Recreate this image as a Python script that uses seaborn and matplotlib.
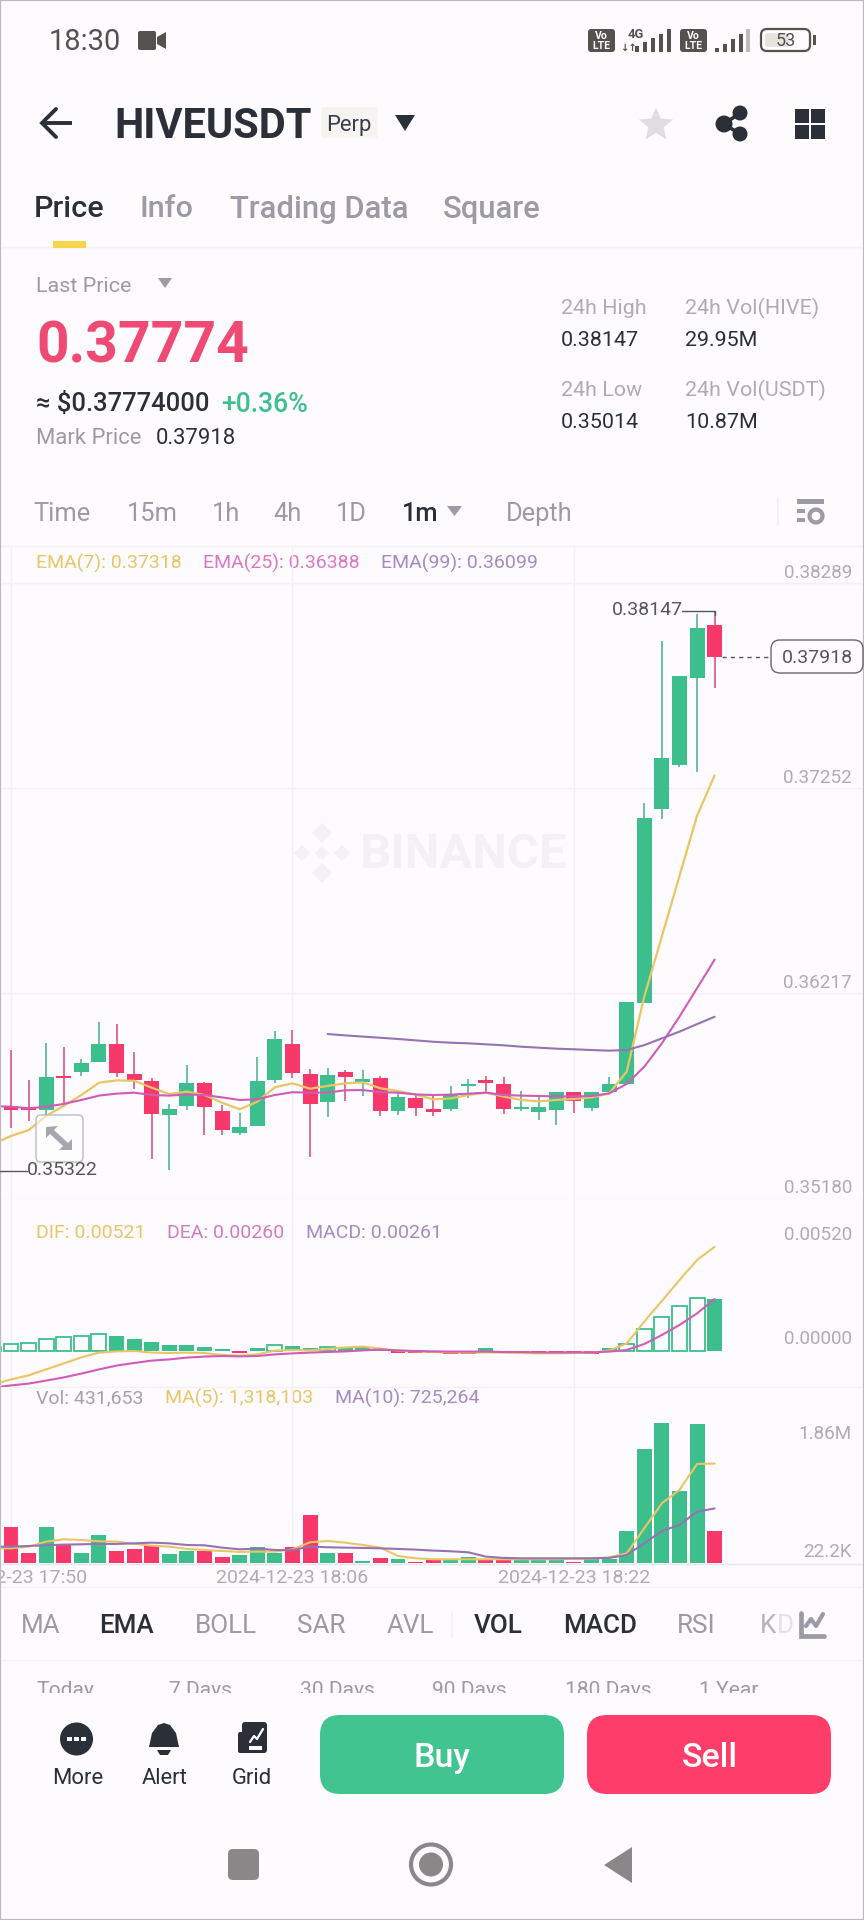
import numpy as np
import pandas as pd
import matplotlib
matplotlib.use('Agg')
import matplotlib.pyplot as plt
import seaborn as sns
from matplotlib.patches import Rectangle, Circle, Polygon, FancyBboxPatch
from matplotlib.transforms import ScaledTranslation

# candle data (index -1 is the cut off candle on the left edge)
candle_idx = list(range(-1, 41))
opens = [.35342, .35650, .35645, .35628, .35800, .35822, .35872, .35962, .35812, .35776, .35601,
         .35648, .35766, .35625, .35514, .35548, .35780, .35960, .35810, .35670, .35820, .35771,
         .35790, .35625, .35687, .35632, .35635, .35751, .35780, .35760, .35632, .35620, .35627,
         .35718, .35640, .35719, .35761, .36167, .37148, .37370, .37808, .38075]
highs = [.35660, .35931, .35780, .35965, .35945, .35886, .36074, .36061, .35923, .35788, .35657,
         .35856, .35768, .35654, .35612, .35898, .36029, .36032, .35834, .35839, .35830, .35830,
         .35802, .35721, .35704, .35704, .35751, .35787, .35800, .35797, .35724, .35696, .35718,
         .35718, .35718, .35797, .36175, .37177, .37996, .37818, .38132, .38147]
lows = [.35322, .35536, .35573, .35603, .35662, .35800, .35872, .35797, .35734, .35381, .35325,
        .35628, .35502, .35502, .35502, .35548, .35763, .35792, .35389, .35595, .35674, .35701,
        .35600, .35603, .35600, .35600, .35623, .35687, .35718, .35608, .35623, .35578, .35553,
        .35612, .35623, .35718, .35761, .36167, .37096, .37358, .37336, .37757]
closes = [.35612, .35628, .35628, .35797, .35788, .35864, .35962, .35817, .35781, .35608, .35635,
          .35766, .35643, .35529, .35544, .35776, .35985, .35817, .35660, .35805, .35793, .35785,
          .35625, .35694, .35637, .35620, .35709, .35761, .35765, .35633, .35642, .35643, .35718,
          .35672, .35718, .35758, .36175, .37104, .37404, .37818, .38062, .37918]

ema7 = [.35457, .35497, .35527, .35598, .35650, .35704, .35766, .35778, .35776, .35741, .35709,
        .35721, .35704, .35665, .35632, .35670, .35743, .35763, .35736, .35750, .35763, .35768,
        .35738, .35724, .35707, .35682, .35687, .35704, .35716, .35696, .35679, .35672, .35679,
        .35684, .35692, .35712, .35822, .36201, .36505, .36810, .37114, .37318]
ema25 = [.35648, .35645, .35637, .35645, .35659, .35679, .35701, .35711, .35716, .35704, .35701,
         .35707, .35704, .35692, .35679, .35682, .35704, .35718, .35716, .35716, .35728, .35729,
         .35718, .35716, .35707, .35704, .35706, .35711, .35716, .35704, .35701, .35699, .35697,
         .35697, .35699, .35712, .35760, .35847, .35965, .36100, .36243, .36388]
ema99_idx = list(range(18, 41))
ema99 = [.36012, .36005, .35999, .35993, .35987, .35980, .35973, .35968, .35965, .35960, .35955,
         .35948, .35943, .35938, .35935, .35931, .35928, .35931, .35956, .35990, .36024, .36062,
         .36099]

macd_hist = [.00022, .00033, .00042, .00060, .00068, .00077, .00085, .00075, .00062, .00043, .00030,
             .00028, .00018, .00008, -.00012, .00015, .00032, .00027, .00015, .00022, .00018, .00020,
             .00012, -.00012, -.00012, -.00012, -.00017, -.00017, .00015, -.00012, -.00008, -.00008,
             -.00015, -.00010, -.00015, .00015, .00035, .00110, .00172, .00227, .00265, .00261]
macd_hollow = [-1, 0, 1, 2, 3, 4, 5, 15, 18, 35, 36, 37, 38, 39]
dif = [-.00167, -.00142, -.00122, -.00092, -.00062, -.00032, -.00008, -.00002, 0, -.00008, -.00010,
       -.00008, -.00010, -.00020, -.00023, -.00017, .00002, .00005, .00003, .00010, .00018, .00022,
       .00012, .00002, -.00002, -.00005, -.00007, -.00008, -.00007, -.00008, -.00010, -.00012,
       -.00012, -.00010, -.00008, .00002, .00038, .00147, .00250, .00355, .00455, .00521]
dea = [-.00183, -.00172, -.00163, -.00148, -.00132, -.00113, -.00092, -.00073, -.00060, -.00048,
       -.00042, -.00033, -.00028, -.00025, -.00027, -.00025, -.00017, -.00012, -.00008, -.00005,
       -.00002, .00003, .00007, .00003, 0, -.00002, -.00003, -.00003, -.00003, -.00005, -.00005,
       -.00007, -.00007, -.00007, -.00007, -.00003, .00005, .00035, .00080, .00130, .00188, .00260]

volume = [200, 485, 132, 485, 242, 132, 375, 168, 190, 242, 123, 163, 168, 79, 110, 220, 141, 220, 639,
          132, 132, 31, 75, 62, 22, 48, 53, 88, 57, 57, 53, 53, 53, 22.2, 57, 57, 432, 1508, 1860,
          957, 1843, 431.653]
vol_ma5 = [198, 198, 220, 287, 317, 309, 291, 287, 256, 234, 220, 190, 176, 163, 150, 154, 154, 185,
           278, 295, 273, 242, 207, 97, 66, 53, 53, 53, 53, 53, 53, 53, 53, 60, 60, 79, 132, 463, 793,
           970, 1314, 1318.103]
vol_ma10 = [220, 220, 229, 238, 247, 251, 256, 256, 264, 273, 264, 242, 238, 207, 185, 194, 176, 176,
            220, 212, 207, 203, 198, 190, 181, 168, 159, 145, 88, 71, 66, 66, 66, 66, 66, 71, 110, 264,
            428, 507, 683, 725.264]

price_ticks = [0.38289, 0.37252, 0.36217, 0.35180]
macd_ticks = [0.00520, 0.0]
vol_ticks = [1860, 22.2]
vol_tick_labels = ['1.86M', '22.2K']
time_ticks = [0, 16, 32]
time_labels = ['2024-12-23 17:50', '2024-12-23 18:06', '2024-12-23 18:22']

GREEN = '#3DBF8D'
RED = '#F7386B'
WICK_G = '#55B592'
WICK_R = '#D8587C'
YEL = '#E8C565'
PINK = '#CE5CB8'
PUR = '#9673B2'
BG = '#FEFBFE'
GRIDC = '#F2F0F3'
GREY = '#9B9AA5'
LBL = '#ADABB4'
DARK = '#2B2F38'

sns.set_theme(style='white')
plt.rcParams['font.family'] = ['Roboto', 'DejaVu Sans']

fig = plt.figure(figsize=(8.64, 19.2), dpi=100, facecolor=BG)

df = pd.DataFrame({'i': candle_idx, 'open': opens, 'high': highs, 'low': lows, 'close': closes})
df['dir'] = np.where(df['close'] >= df['open'], 'up', 'down')
dir_pal = {'up': GREEN, 'down': RED}


def panel(top, bottom):
    ax = fig.add_axes([0, 1 - bottom / 1920, 1, (bottom - top) / 1920], zorder=2)
    ax.patch.set_alpha(0)
    return ax


def finish_panel(ax, xlim, ylim, yticks, ylabels, offset_px=1.5, grid_axis='x'):
    ax.set_xlim(*xlim)
    ax.set_ylim(*ylim)
    ax.set_xlabel('')
    ax.set_ylabel('')
    ax.set_xticks(time_ticks)
    ax.set_yticks(yticks)
    ax.set_yticklabels(ylabels)
    sns.despine(ax=ax, left=True, bottom=True, right=True, top=True)
    ax.grid(True, axis=grid_axis, color=GRIDC, linewidth=1.0)
    ax.set_axisbelow(True)
    ax.tick_params(axis='y', length=0, pad=-8.6, labelleft=False, labelright=True,
                   labelcolor=LBL, labelsize=13.6)
    ax.tick_params(axis='x', length=0)
    up = ScaledTranslation(0, offset_px / 100, fig.dpi_scale_trans)
    for lab in ax.get_yticklabels():
        lab.set_ha('right')
        lab.set_va('bottom')
        lab.set_transform(lab.get_transform() + up)


# pixel x = 11 + 17.59 * index
xlim = (-0.625, 48.49)

# price panel
ax_p = panel(546, 1199)
ax_p.vlines(df['i'][df['dir'] == 'up'], df['low'][df['dir'] == 'up'], df['high'][df['dir'] == 'up'],
            color=WICK_G, linewidth=1.2, zorder=2)
ax_p.vlines(df['i'][df['dir'] == 'down'], df['low'][df['dir'] == 'down'], df['high'][df['dir'] == 'down'],
            color=WICK_R, linewidth=1.2, zorder=2)
body_low = df[['open', 'close']].min(axis=1)
body_h = (df['close'] - df['open']).abs()
ax_p.bar(df['i'], body_h, bottom=body_low, width=0.85,
         color=[dir_pal[d] for d in df['dir']], linewidth=0, zorder=3)
sns.lineplot(x=candle_idx, y=ema7, color=YEL, linewidth=1.6, ax=ax_p, errorbar=None, zorder=4)
sns.lineplot(x=candle_idx, y=ema25, color=PINK, linewidth=1.5, ax=ax_p, errorbar=None, zorder=5)
sns.lineplot(x=ema99_idx, y=ema99, color=PUR, linewidth=1.5, ax=ax_p, errorbar=None, zorder=5)
finish_panel(ax_p, xlim, (0.35179, 0.38476), price_ticks, ['%.5f' % v for v in price_ticks], grid_axis='both')
ax_p.tick_params(axis='x', labelbottom=False)

# macd panel
ax_m = panel(1199, 1387)
mdf = pd.DataFrame({'i': candle_idx, 'hist': macd_hist})
mdf['hollow'] = mdf['i'].isin(macd_hollow)
mdf['dir'] = np.where(mdf['hist'] >= 0, 'up', 'down')
solid = mdf[~mdf['hollow']]
sns.barplot(data=solid, x='i', y='hist', hue='dir', palette=dir_pal, dodge=False, native_scale=True,
            width=0.85, errorbar=None, legend=False, linewidth=0, saturation=1, ax=ax_m, zorder=3)
sns.barplot(data=mdf[mdf['hollow']], x='i', y='hist', color=GREEN, fill=False, native_scale=True,
            width=0.85, errorbar=None, linewidth=1.3, saturation=1, ax=ax_m, zorder=3)
sns.lineplot(x=candle_idx, y=dif, color=YEL, linewidth=1.5, ax=ax_m, errorbar=None, zorder=4)
sns.lineplot(x=candle_idx, y=dea, color=PINK, linewidth=1.5, ax=ax_m, errorbar=None, zorder=5)
finish_panel(ax_m, xlim, (-0.0018, 0.0076), macd_ticks, ['%.5f' % v for v in macd_ticks], offset_px=2.5)
ax_m.tick_params(axis='x', labelbottom=False)

# volume panel
ax_v = panel(1387, 1563.3)
vdf = pd.DataFrame({'i': candle_idx, 'vol': volume, 'dir': df['dir']})
sns.barplot(data=vdf, x='i', y='vol', hue='dir', palette=dir_pal, dodge=False, native_scale=True,
            width=0.85, errorbar=None, legend=False, linewidth=0, saturation=1, ax=ax_v, zorder=3)
sns.lineplot(x=candle_idx, y=vol_ma5, color=YEL, linewidth=1.5, ax=ax_v, errorbar=None, zorder=4)
sns.lineplot(x=candle_idx, y=vol_ma10, color=PUR, linewidth=1.5, ax=ax_v, errorbar=None, zorder=5)
finish_panel(ax_v, xlim, (0, 2331), vol_ticks, vol_tick_labels, offset_px=1)
top_lab = ax_v.get_yticklabels()[0]
top_lab.set_va('top')
top_lab.set_transform(top_lab.get_transform() + ScaledTranslation(0, -0.035, fig.dpi_scale_trans))
ax_v.set_xticklabels(time_labels)
ax_v.tick_params(axis='x', labelcolor=LBL, labelsize=14, pad=4)

# everything else is app chrome, drawn in pixel coordinates
ui = fig.add_axes([0, 0, 1, 1], zorder=1)
ui.set_xlim(0, 864)
ui.set_ylim(1920, 0)
ui.axis('off')
top = fig.add_axes([0, 0, 1, 1], zorder=3)
top.set_xlim(0, 864)
top.set_ylim(1920, 0)
top.axis('off')
top.patch.set_alpha(0)


def txt(x, y, s, size, color=GREY, weight='normal', ha='left', ax=ui, **kw):
    # va center sits a little high with Roboto
    return ax.text(x, y + 2, s, fontsize=size * 0.72, color=color, fontweight=weight, ha=ha, va='center', **kw)


def rbox(x0, y0, x1, y1, r, fc, ec='none', lw=0, ax=ui, z=2):
    p = FancyBboxPatch((x0 + r, y0 + r), x1 - x0 - 2 * r, y1 - y0 - 2 * r,
                       boxstyle='round,pad=%g,rounding_size=%g' % (r, r),
                       fc=fc, ec=ec, lw=lw, zorder=z)
    ax.add_patch(p)


def hline(y, x0=0, x1=864, c=GRIDC, lw=1.0):
    ui.plot([x0, x1], [y, y], color=c, lw=lw, solid_capstyle='butt')


def poly(pts, c, ax=ui, z=3):
    ax.add_patch(Polygon(pts, closed=True, fc=c, ec='none', zorder=z))


# status bar
SB = '#55514F'
txt(49, 40, '18:30', 29, SB)
rbox(138, 31, 156, 50, 2, SB)
poly([(157, 37), (166, 32), (166, 49), (157, 44)], SB)
for x0 in [588, 680]:
    rbox(x0, 29, x0 + 27, 52, 3, SB)
    txt(x0 + 13.5, 34, 'Vo', 10.5, 'white', 'bold', 'center')
    txt(x0 + 13.5, 44, 'LTE', 10.5, 'white', 'bold', 'center')
txt(636, 32, '4G', 13, SB, 'bold', 'center')
for k, (x0, h) in enumerate(zip([637, 645, 653, 661, 669], [6, 10, 14, 18, 23])):
    ui.add_patch(Rectangle((x0 - 2, 52 - h), 3.5, h, fc=SB, ec='none'))
txt(628, 46, '↓↑', 10, SB, 'bold', 'center')
for x0, h, c in zip([715, 723, 731, 739, 746], [4, 8, 13, 18, 23], [SB, SB, SB, SB, '#BDBBBA']):
    ui.add_patch(Rectangle((x0, 52 - h), 3.5, h, fc=c, ec='none'))
rbox(761, 29, 810, 51, 6, 'none', SB, 1.6)
rbox(765, 33, 789, 47, 3, '#E6E3E1')
txt(786, 39, '53', 18, SB, 'normal', 'center')
ui.add_patch(Rectangle((813, 35), 3, 10, fc=SB, ec='none'))

# header
ui.plot([42, 72], [123, 123], color=DARK, lw=2.8, solid_capstyle='butt')
ui.plot([56, 42, 56], [109, 123, 137], color=DARK, lw=2.8, solid_joinstyle='miter')
txt(114, 124, 'HIVEUSDT', 41.5, DARK, 'bold')
rbox(321, 107, 378, 138, 3, '#F6F4F1')
txt(349, 123, 'Perp', 22, '#3A3D46', 'normal', 'center')
poly([(395, 115), (415, 115), (405, 131)], DARK)
sx, sy = 656, 125
star = []
for k in range(10):
    r = 18 if k % 2 == 0 else 8
    a = np.pi / 2 + k * np.pi / 5
    star.append((sx + r * np.cos(a), sy - r * np.sin(a)))
poly(star, '#E0DEE3')
ui.plot([740, 724, 740], [113, 124, 134], color=DARK, lw=2.6)
for cx, cy, r in [(740, 113, 7.5), (724, 124, 8.5), (740, 134, 7.5)]:
    ui.add_patch(Circle((cx, cy), r, fc=DARK, ec='none', zorder=3))
for x0, y0 in [(795, 109), (811, 109), (795, 125), (811, 125)]:
    ui.add_patch(Rectangle((x0, y0), 13.5, 13.5, fc=DARK, ec='none'))

# tabs
txt(34, 207, 'Price', 30.5, DARK, 'medium')
txt(139, 207, 'Info', 30.5, GREY, 'medium')
txt(230, 207, 'Trading Data', 31, GREY, 'medium')
txt(443, 207, 'Square', 31, GREY, 'medium')
ui.add_patch(Rectangle((53, 241), 33, 7, fc='#F6D548', ec='none', zorder=3))
hline(247)

# price block
txt(36, 284, 'Last Price', 21.5, GREY)
poly([(158, 278), (172, 278), (165, 288)], GREY)
txt(36, 345, '0.37774', 57, '#EE4A73', 'bold')
txt(36, 402, '≈ $0.37774000', 25.5, DARK, 'medium')
txt(221, 402, '+0.36%', 26.5, '#3FBE8E', 'medium')
txt(36, 437, 'Mark Price', 22, GREY)
txt(156, 437, '0.37918', 22, DARK)
txt(561, 306, '24h High', 21.5, LBL)
txt(561, 338, '0.38147', 21.5, DARK)
txt(685, 306, '24h Vol(HIVE)', 21.5, LBL)
txt(685, 338, '29.95M', 21.5, DARK)
txt(561, 388, '24h Low', 21.5, LBL)
txt(561, 420, '0.35014', 21.5, DARK)
txt(685, 388, '24h Vol(USDT)', 21.5, LBL)
txt(685, 420, '10.87M', 21.5, DARK)

# interval row
for x, s in [(33, 'Time'), (127, '15m'), (212, '1h'), (273, '4h'), (336, '1D'), (506, 'Depth')]:
    txt(x, 512, s, 25.5, GREY)
txt(402, 512, '1m', 25.5, DARK, 'medium')
poly([(447, 506), (462, 506), (454.5, 516)], GREY)
ui.plot([778, 778], [498, 525], color=GRIDC, lw=1.2)
ui.add_patch(Rectangle((797, 499), 27, 5, fc=GREY, ec='none'))
ui.add_patch(Rectangle((797, 509), 8, 4, fc=GREY, ec='none'))
ui.add_patch(Rectangle((797, 518), 8, 4, fc=GREY, ec='none'))
ui.add_patch(Circle((816, 516), 6.5, fc=BG, ec=GREY, lw=3))
hline(546)

# legends above the panels
txt(36, 561, 'EMA(7): 0.37318', 19.5, YEL)
txt(203, 561, 'EMA(25): 0.36388', 19.5, '#DB78C4')
txt(381, 561, 'EMA(99): 0.36099', 19.5, '#A48BC0')
txt(36, 1231, 'DIF: 0.00521', 19.5, YEL)
txt(167, 1231, 'DEA: 0.00260', 19.5, '#D07CC0')
txt(306, 1231, 'MACD: 0.00261', 19.5, '#A48BC0')
txt(36, 1396, 'Vol: 431,653', 19.5, '#A3A1AA')
txt(165, 1396, 'MA(5): 1,318,103', 19.5, YEL)
txt(335, 1396, 'MA(10): 725,264', 19.5, '#A48BC0')
hline(1387)
hline(1563.5, c='#E8E6EA')
hline(1587)

# watermark
WM = '#F3F1F4'
for cx, cy, r in [(322, 833, 10), (322, 873, 10), (302, 853, 8), (342, 853, 8), (322, 853, 7)]:
    poly([(cx - r, cy), (cx, cy - r), (cx + r, cy), (cx, cy + r)], WM)
txt(360, 853, 'BINANCE', 49, WM, 'bold')

# high / low / mark annotations on the price panel
txt(612, 608, '0.38147', 19.5, '#55555E', ax=top)
top.plot([682, 715, 715], [611, 611, 615], color='#55555E', lw=1.0)
txt(27, 1168, '0.35322', 19.5, '#55555E', ax=top)
top.plot([0, 27], [1170.5, 1170.5], color='#55555E', lw=1.0)
top.plot([722, 771], [656.7, 656.7], color='#55555E', lw=1.0, dashes=(3, 3))
rbox(771, 640, 863, 673, 9, BG, '#66666E', 1.0, ax=top)
txt(817, 656, '0.37918', 19.5, '#55555E', ha='center', ax=top, zorder=5)
# expand button
rbox(36, 1115, 83, 1162, 5, (1, 1, 1, 0.55), '#BDBBC2', 1.0, ax=top)
AR = '#A7A6AE'
poly([(46, 1127), (46, 1138), (50, 1134), (63, 1146), (59, 1150), (72, 1150), (72, 1139), (68, 1143), (54, 1130), (58, 1126)], AR, ax=top)

# indicator row
for x, s in [(21, 'MA'), (195, 'BOLL'), (297, 'SAR'), (387, 'AVL'), (677, 'RSI')]:
    txt(x, 1624, s, 26, GREY)
for x, s in [(99, 'EMA'), (474, 'VOL'), (563, 'MACD')]:
    txt(x, 1624, s, 26, DARK, 'medium')
txt(760, 1624, 'K', 26, '#B5B3BB')
txt(777, 1624, 'D', 26, '#E4E2E6')
ui.plot([452, 452], [1612, 1638], color=GRIDC, lw=1.2)
ui.plot([801, 801, 824], [1613, 1636, 1636], color=GREY, lw=3.4, solid_joinstyle='miter')
ui.plot([806, 811, 816, 823], [1626, 1619, 1626, 1614], color=GREY, lw=3)
hline(1660)

# cut off date range row, hidden below 1693 by the action bar
for x, s in [(36, 'Today'), (169, '7 Days'), (300, '30 Days'), (432, '90 Days'), (565, '180 Days'), (699, '1 Year')]:
    txt(x, 1689, s, 21, GREY, zorder=1)
ui.add_patch(Rectangle((0, 1693), 864, 227, fc=BG, ec='none', zorder=2))

# bottom action bar
ui.add_patch(Circle((76.5, 1739), 16.5, fc=DARK, ec='none', zorder=3))
for dx in [-7, 0, 7]:
    ui.add_patch(Rectangle((76.5 + dx - 2.2, 1737), 4.4, 4.4, fc='white', ec='none', zorder=4))
poly([(149, 1747), (152, 1733), (158, 1725), (164, 1723), (170, 1725), (176, 1733), (179, 1747)], DARK)
poly([(157, 1750), (171, 1750), (168, 1755), (160, 1755)], DARK)
rbox(242, 1722, 267, 1753, 3, DARK, z=3)
rbox(238, 1732, 252, 1753, 2, DARK, z=3)
ui.plot([250, 254, 257, 263], [1742, 1736, 1739, 1729], color='white', lw=1.6, zorder=4)
ui.add_patch(Rectangle((249, 1746), 13, 3.5, fc='white', ec='none', zorder=4))
txt(77.5, 1777, 'More', 22, DARK, ha='center')
txt(165, 1777, 'Alert', 22, DARK, ha='center')
txt(252, 1777, 'Grid', 22, DARK, ha='center')
rbox(320, 1715, 564, 1794, 20, '#41C490')
rbox(587, 1715, 831, 1794, 20, '#FE3D6B')
txt(442, 1756, 'Buy', 34, 'white', 'medium', 'center', zorder=4)
txt(710, 1756, 'Sell', 34, 'white', 'medium', 'center', zorder=4)

# android nav bar
NAV = '#8B8789'
rbox(228, 1849, 259, 1880, 5, NAV, z=3)
ui.add_patch(Circle((431, 1864.5), 20, fc='none', ec=NAV, lw=3, zorder=3))
ui.add_patch(Circle((431, 1864.5), 12, fc=NAV, ec='none', zorder=3))
poly([(604, 1865), (632, 1847), (632, 1883)], NAV)

# screenshot border
top.add_patch(Rectangle((0, 0), 864, 1920, fc='none', ec='#BDBBBE', lw=1.6, clip_on=True))

fig.savefig('out.png', dpi=100, facecolor=BG)
